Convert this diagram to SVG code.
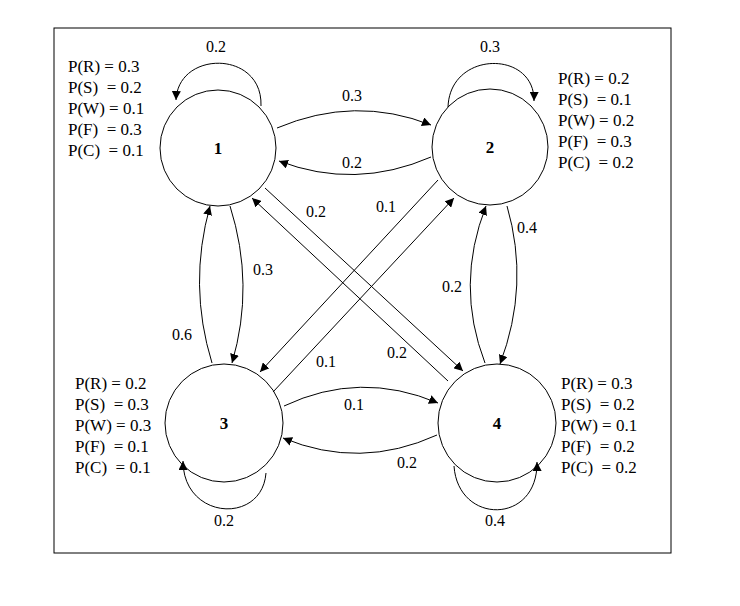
<svg xmlns="http://www.w3.org/2000/svg" width="740" height="606" viewBox="0 0 740 606">
<defs>
<marker id="a" viewBox="0 0 10 10" refX="10" refY="5" markerWidth="9" markerHeight="9" markerUnits="userSpaceOnUse" orient="auto"><path d="M0,0 L10,5 L0,10 z" fill="#000"/></marker>
<style>
text{font-family:"Liberation Serif","Times New Roman",serif;font-size:17px;fill:#000;white-space:pre}
.n{font-weight:bold;text-anchor:middle}
.l{text-anchor:middle;font-size:16px}
circle{fill:#fff;stroke:#000;stroke-width:1}
#edges path{fill:none;stroke:#000;stroke-width:1;marker-end:url(#a)}
</style>
</defs>
<rect width="740" height="606" fill="#fff"/>
<rect x="54" y="28" width="617" height="525" fill="none" stroke="#000"/>
<g id="n1"><circle cx="218" cy="148" r="58"/><text class="n" x="218" y="154">1</text>
<text x="68" y="72">P(R) = 0.3</text><text x="68" y="93">P(S)  = 0.2</text><text x="68" y="114">P(W) = 0.1</text><text x="68" y="135">P(F)  = 0.3</text><text x="68" y="156">P(C)  = 0.1</text></g>
<g id="n2"><circle cx="490" cy="147" r="58"/><text class="n" x="490" y="153">2</text>
<text x="558" y="84">P(R) = 0.2</text><text x="558" y="105">P(S)  = 0.1</text><text x="558" y="126">P(W) = 0.2</text><text x="558" y="147">P(F)  = 0.3</text><text x="558" y="168">P(C)  = 0.2</text></g>
<g id="n3"><circle cx="224" cy="423" r="59"/><text class="n" x="224" y="429">3</text>
<text x="75" y="389">P(R) = 0.2</text><text x="75" y="410">P(S)  = 0.3</text><text x="75" y="431">P(W) = 0.3</text><text x="75" y="452">P(F)  = 0.1</text><text x="75" y="473">P(C)  = 0.1</text></g>
<g id="n4"><circle cx="497" cy="423" r="59"/><text class="n" x="497" y="429">4</text>
<text x="561" y="389">P(R) = 0.3</text><text x="561" y="410">P(S)  = 0.2</text><text x="561" y="431">P(W) = 0.1</text><text x="561" y="452">P(F)  = 0.2</text><text x="561" y="473">P(C)  = 0.2</text></g>
<g id="edges">
<path d="M261,106 C263,50 178,50 176,100"/>
<path d="M448,107 C450,50 535,50 534,101"/>
<path d="M266,473 C262,525 183,520 183,461"/>
<path d="M454,466 C458,525 538,525 537,462"/>
<path d="M277,128 Q355,95 431,125"/>
<path d="M431,157 Q355,190 279,161"/>
<path d="M284,406 Q360,370 438,403"/>
<path d="M437,435 Q360,470 283,438"/>
<path d="M230,206 Q255,285 232,363"/>
<path d="M212,363 Q188,285 210,206"/>
<path d="M507,206 Q530,285 500,364"/>
<path d="M485,363 Q455,285 486,206"/>
<path d="M265,188 L463,371"/>
<path d="M448,381 L252,198"/>
<path d="M438,180 L260,372"/>
<path d="M273,392 L454,198"/>
</g>
<g id="labels">
<text class="l" x="216" y="52">0.2</text><text class="l" x="490" y="52">0.3</text>
<text class="l" x="352" y="101">0.3</text><text class="l" x="352" y="168">0.2</text>
<text class="l" x="316" y="217">0.2</text><text class="l" x="386" y="212">0.1</text>
<text class="l" x="527" y="233">0.4</text><text class="l" x="263" y="275">0.3</text>
<text class="l" x="182" y="340">0.6</text><text class="l" x="452" y="292">0.2</text>
<text class="l" x="326" y="367">0.1</text><text class="l" x="397" y="358">0.2</text>
<text class="l" x="354" y="410">0.1</text><text class="l" x="407" y="468">0.2</text>
<text class="l" x="224" y="526">0.2</text><text class="l" x="495" y="526">0.4</text>
</g>
</svg>
